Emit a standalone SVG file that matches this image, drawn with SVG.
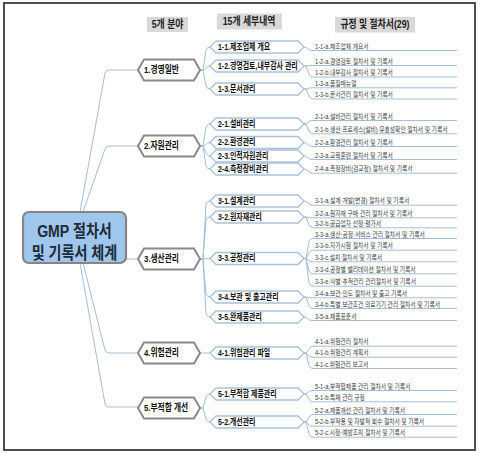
<svg xmlns="http://www.w3.org/2000/svg" width="480" height="453" viewBox="0 0 480 453">
<style>
text{font-family:"Liberation Sans","Noto Sans CJK KR",sans-serif}
.s{transform:scale(.8,1)}
.cs{transform:scale(.83,1)}
.hd{font-size:11px;font-weight:bold;fill:#222;text-anchor:middle}
.hb{fill:#d9d9d9}
.ct{font-size:17px;font-weight:bold;fill:#1e2a36;text-anchor:middle}
.l1 polygon{fill:#fff;stroke:#8a8a8a;stroke-width:2}
.l1 text{font-size:9.7px;font-weight:bold;fill:#111}
.l2 polygon{fill:#fff;stroke:#a9c1dc;stroke-width:1.3}
.l2 text{font-size:8.7px;font-weight:bold;fill:#111}
.l3 text{font-size:7.2px;fill:#3a3a3a}
#connectors path{fill:none;stroke:#a3bedb;stroke-width:1}
</style>
<rect x="4" y="3" width="471" height="447" fill="#fff" stroke="#3c3c3c" stroke-width="1.8"/>

<g id="headers">
<rect class="hb" x="147" y="17" width="41" height="15"/>
<rect class="hb" x="217" y="13.5" width="65" height="16"/>
<rect class="hb" x="335" y="17" width="80" height="15.5"/>
<text class="hd s" x="209.4" y="28">5개 분야</text>
<text class="hd s" x="311.25" y="25.5">15개 세부내역</text>
<text class="hd s" x="468.75" y="28.5">규정 및 절차서(29)</text>
</g>

<g id="connectors">
<path d="M80,212 L105,73 Q106,70 109,70 H138"/>
<path d="M83,212 L105,149 Q106,146 109,146 H138"/>
<path d="M126,259 H138"/>
<path d="M83,263 L105,350 Q106,353 109,353 H138"/>
<path d="M80,263 L105,404 Q106,407 109,407 H138"/>

<path d="M200,70 H203 L206,50 Q207,47 210,47"/>
<path d="M200,70 H203 C206,70 206,66 210,66"/>
<path d="M200,70 H203 L206,86 Q207,89 210,89"/>
<path d="M200,146 H203 L206,127 Q207,124 210,124"/>
<path d="M200,146 H203 C206,146 206,142.5 210,142.5"/>
<path d="M200,146 H203 L206,153 Q207,156 210,156"/>
<path d="M200,146 H203 L206,166 Q207,169 210,169"/>
<path d="M200,259 H203 L206,204 Q207,201 210,201"/>
<path d="M200,259 H203 L206,220 Q207,217 210,217"/>
<path d="M200,259 L210,258.5"/>
<path d="M200,259 H203 L206,294 Q207,297 210,297"/>
<path d="M200,259 H203 L206,314 Q207,317 210,317"/>
<path d="M200,353 H210"/>
<path d="M200,408 H203 L206,397 Q207,394 210,394"/>
<path d="M200,408 H203 L206,419 Q207,422 210,422"/>

<path d="M304,47 C308,47 308,50.5 312,50.5 H457"/>
<path d="M304,66 C308,66 308,65.5 312,65.5 H457"/>
<path d="M304,66 H306 L309,74 Q310,77 313,77 H457"/>
<path d="M304,89 C308,89 308,87.8 312,87.8 H457"/>
<path d="M304,89 H306 L309,96 Q310,99 313,99 H457"/>
<path d="M304,124 C308,124 308,120.5 312,120.5 H457"/>
<path d="M304,124 H306 L309,130.8 Q310,133.8 313,133.8 H457"/>
<path d="M304,142.5 C308,142.5 308,146.5 312,146.5 H457"/>
<path d="M304,156 C308,156 308,159.5 312,159.5 H457"/>
<path d="M304,169 C308,169 308,173.2 312,173.2 H457"/>
<path d="M304,201 C308,201 308,205.2 312,205.2 H457"/>
<path d="M304,217 C308,217 308,217.8 312,217.8 H457"/>
<path d="M304,217 H306 L309,224.8 Q310,227.8 313,227.8 H457"/>
<path d="M304,258.5 H306 L309,241.5 Q310,238.5 313,238.5 H457"/>
<path d="M304,258.5 H306 L309,253.2 Q310,250.2 313,250.2 H457"/>
<path d="M304,258.5 C308,258.5 308,261.8 312,261.8 H457"/>
<path d="M304,258.5 H306 L309,270.8 Q310,273.8 313,273.8 H457"/>
<path d="M304,258.5 H306 L309,283.2 Q310,286.2 313,286.2 H457"/>
<path d="M304,297 C308,297 308,297.8 312,297.8 H457"/>
<path d="M304,297 H306 L309,305.5 Q310,308.5 313,308.5 H457"/>
<path d="M304,317 C308,317 308,320.5 312,320.5 H457"/>
<path d="M304,353 H306 L309,349.2 Q310,346.2 313,346.2 H457"/>
<path d="M304,353 C308,353 308,357.2 312,357.2 H457"/>
<path d="M304,353 H306 L309,365.5 Q310,368.5 313,368.5 H457"/>
<path d="M304,394 C308,394 308,390.5 312,390.5 H457"/>
<path d="M304,394 H306 L309,398.8 Q310,401.8 313,401.8 H457"/>
<path d="M304,422 H306 L309,417.5 Q310,414.5 313,414.5 H457"/>
<path d="M304,422 C308,422 308,426.2 312,426.2 H457"/>
<path d="M304,422 H306 L309,434.2 Q310,437.2 313,437.2 H457"/>
</g>

<g id="root">
<rect x="23" y="212" width="103" height="51" rx="6" fill="#9fc6ec" stroke="#858585" stroke-width="2.2"/>
<text class="ct cs" x="89.76" y="237">GMP 절차서</text>
<text class="ct cs" x="89.76" y="259">및 기록서 체계</text>
</g>

<g id="n1" class="l1"><polygon points="138,70 144,59.5 194,59.5 200,70 194,80.5 144,80.5"/><text class="s" x="180" y="73.5">1.경영일반</text></g>
<g id="n2" class="l1"><polygon points="138,146 144,135.5 194,135.5 200,146 194,156.5 144,156.5"/><text class="s" x="180" y="149.5">2.자원관리</text></g>
<g id="n3" class="l1"><polygon points="138,259 144,248.5 194,248.5 200,259 194,269.5 144,269.5"/><text class="s" x="180" y="262.5">3.생산관리</text></g>
<g id="n4" class="l1"><polygon points="138,353 144,342.5 194,342.5 200,353 194,363.5 144,363.5"/><text class="s" x="180" y="356.5">4.위험관리</text></g>
<g id="n5" class="l1"><polygon points="138,408 144,397.5 194,397.5 200,408 194,418.5 144,418.5"/><text class="s" x="180" y="411.5">5.부적합 개선</text></g>

<g id="n1-1" class="l2"><polygon points="210,47 216,41 298,41 304,47 298,53 216,53"/><text class="s" x="272.5" y="50">1-1.제조업체 개요</text></g>
<g id="n1-2" class="l2"><polygon points="210,66 216,60 298,60 304,66 298,72 216,72"/><text class="s" x="272.5" y="69">1-2.경영검토,내부감사 관리</text></g>
<g id="n1-3" class="l2"><polygon points="210,89 216,83 298,83 304,89 298,95 216,95"/><text class="s" x="272.5" y="92">1-3.문서관리</text></g>
<g id="n2-1" class="l2"><polygon points="210,124 216,118 298,118 304,124 298,130 216,130"/><text class="s" x="272.5" y="127">2-1.설비관리</text></g>
<g id="n2-2" class="l2"><polygon points="210,142.5 216,136.5 298,136.5 304,142.5 298,148.5 216,148.5"/><text class="s" x="272.5" y="145.5">2-2.환경관리</text></g>
<g id="n2-3" class="l2"><polygon points="210,156 216,150 298,150 304,156 298,162 216,162"/><text class="s" x="272.5" y="159">2-3.인적자원관리</text></g>
<g id="n2-4" class="l2"><polygon points="210,169 216,163 298,163 304,169 298,175 216,175"/><text class="s" x="272.5" y="172">2-4.측정장비관리</text></g>
<g id="n3-1" class="l2"><polygon points="210,201 216,195 298,195 304,201 298,207 216,207"/><text class="s" x="272.5" y="204">3-1.설계관리</text></g>
<g id="n3-2" class="l2"><polygon points="210,217 216,211 298,211 304,217 298,223 216,223"/><text class="s" x="272.5" y="220">3-2.원자재관리</text></g>
<g id="n3-3" class="l2"><polygon points="210,258.5 216,252.5 298,252.5 304,258.5 298,264.5 216,264.5"/><text class="s" x="272.5" y="261.5">3-3.공정관리</text></g>
<g id="n3-4" class="l2"><polygon points="210,297 216,291 298,291 304,297 298,303 216,303"/><text class="s" x="272.5" y="300">3-4.보관 및 출고관리</text></g>
<g id="n3-5" class="l2"><polygon points="210,317 216,311 298,311 304,317 298,323 216,323"/><text class="s" x="272.5" y="320">3-5.완제품관리</text></g>
<g id="n4-1" class="l2"><polygon points="210,353 216,347 298,347 304,353 298,359 216,359"/><text class="s" x="272.5" y="356">4-1.위험관리 파일</text></g>
<g id="n5-1" class="l2"><polygon points="210,394 216,388 298,388 304,394 298,400 216,400"/><text class="s" x="272.5" y="397">5-1.부적합 제품관리</text></g>
<g id="n5-2" class="l2"><polygon points="210,422 216,416 298,416 304,422 298,428 216,428"/><text class="s" x="272.5" y="425">5-2.개선관리</text></g>

<g class="l3">
<g id="d1-1-a"><text class="s" x="393.75" y="48.6">1-1-a.제조업체 개요서</text></g>
<g id="d1-2-a"><text class="s" x="393.75" y="63.6">1-2-a.경영검토 절차서 및 기록서</text></g>
<g id="d1-2-b"><text class="s" x="393.75" y="75.1">1-2-b.내부감사 절차서 및 기록서</text></g>
<g id="d1-3-a"><text class="s" x="393.75" y="85.9">1-3-a.품질매뉴얼</text></g>
<g id="d1-3-b"><text class="s" x="393.75" y="97.1">1-3-b.문서관리 절차서 및 기록서</text></g>
<g id="d2-1-a"><text class="s" x="393.75" y="118.6">2-1-a.설비관리 절차서 및 기록서</text></g>
<g id="d2-1-b"><text class="s" x="393.75" y="131.9">2-1-b.생산 프로세스(설비) 유효성확인 절차서 및 기록서</text></g>
<g id="d2-2-a"><text class="s" x="393.75" y="144.6">2-2-a.환경관리 절차서 및 기록서</text></g>
<g id="d2-3-a"><text class="s" x="393.75" y="157.6">2-3-a.교육훈련 절차서 및 기록서</text></g>
<g id="d2-4-a"><text class="s" x="393.75" y="171.3">2-4-a.측정장비(검교정) 절차서 및 기록서</text></g>
<g id="d3-1-a"><text class="s" x="393.75" y="203.3">3-1-a.설계·개발(변경) 절차서 및 기록서</text></g>
<g id="d3-2-a"><text class="s" x="393.75" y="215.9">3-2-a.원자재 구매·관리 절차서 및 기록서</text></g>
<g id="d3-2-b"><text class="s" x="393.75" y="225.9">3-2-b.공급업자 선정·평가서</text></g>
<g id="d3-3-a"><text class="s" x="393.75" y="236.6">3-3-a.생산·공정·서비스 관리 절차서 및 기록서</text></g>
<g id="d3-3-b"><text class="s" x="393.75" y="248.3">3-3-b.자가시험 절차서 및 기록서</text></g>
<g id="d3-3-c"><text class="s" x="393.75" y="259.9">3-3-c.설치 절차서 및 기록서</text></g>
<g id="d3-3-d"><text class="s" x="393.75" y="271.9">3-3-d.공정별 밸리데이션 절차서 및 기록서</text></g>
<g id="d3-3-e"><text class="s" x="393.75" y="284.3">3-3-e.식별·추적관리 관리절차서 및 기록서</text></g>
<g id="d3-4-a"><text class="s" x="393.75" y="295.9">3-4-a.보관·인도 절차서 및 출고 기록서</text></g>
<g id="d3-4-b"><text class="s" x="393.75" y="306.6">3-4-b.특별 보관조건 의료기기 관리 절차서 및 기록서</text></g>
<g id="d3-5-a"><text class="s" x="393.75" y="318.6">3-5-a.제품표준서</text></g>
<g id="d4-1-a"><text class="s" x="393.75" y="344.3">4-1-a.위험관리 절차서</text></g>
<g id="d4-1-b"><text class="s" x="393.75" y="355.3">4-1-b.위험관리 계획서</text></g>
<g id="d4-1-c"><text class="s" x="393.75" y="366.6">4-1-c.위험관리 보고서</text></g>
<g id="d5-1-a"><text class="s" x="393.75" y="388.6">5-1-a.부적합제품 관리 절차서 및 기록서</text></g>
<g id="d5-1-b"><text class="s" x="393.75" y="399.9">5-1-b.특채 관리 규정</text></g>
<g id="d5-2-a"><text class="s" x="393.75" y="412.6">5-2-a.제품개선 관리 절차서 및 기록서</text></g>
<g id="d5-2-b"><text class="s" x="393.75" y="424.3">5-2-b.부작용 및 자발적 회수 절차서 및 기록서</text></g>
<g id="d5-2-c"><text class="s" x="393.75" y="435.3">5-2-c.시정·예방조치 절차서 및 기록서</text></g>
</g>
</svg>
